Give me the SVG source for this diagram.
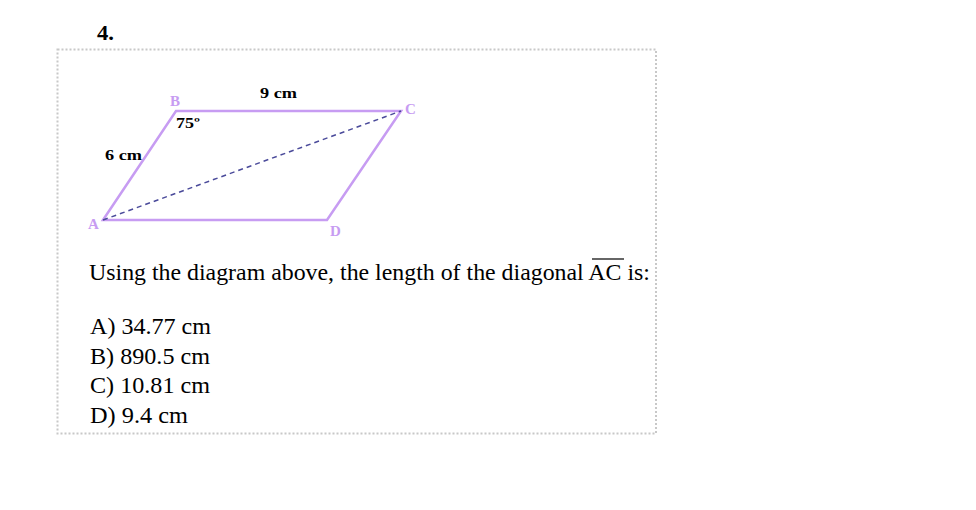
<svg xmlns="http://www.w3.org/2000/svg" width="976" height="510" viewBox="0 0 976 510">
<style>
.lbl{font-family:"Liberation Serif","Times New Roman","DejaVu Serif",serif;font-weight:bold;font-size:15px;fill:#c79cf2}
.dim{font-family:"Liberation Serif","Times New Roman","DejaVu Serif",serif;font-weight:bold;font-size:14px;fill:#000}
.txt{font-family:"Liberation Serif","Times New Roman","DejaVu Serif",serif;font-size:23px;fill:#000}
.side{stroke:#c79cf2;stroke-width:2.5;fill:none}
</style>
<rect width="976" height="510" fill="#fff"/>
<text x="97" y="40" font-family="Liberation Serif, Times New Roman, DejaVu Serif, serif" font-weight="bold" font-size="21" textLength="17" lengthAdjust="spacingAndGlyphs">4.</text>
<rect x="57.5" y="49.5" width="598.5" height="384" fill="none" stroke="#c8c8c8" stroke-width="2" stroke-dasharray="2 2"/>
<g id="parallelogram">
<polygon class="side" points="103,220 176,111 401,111 327,220"/>
</g>
<g id="connectors">
<line x1="103" y1="220" x2="401" y2="111" stroke="#4a4a9a" stroke-width="1.5" stroke-dasharray="5 4"/>
</g>
<g id="labels">
<text class="lbl" x="170" y="106">B</text>
<text class="lbl" x="405" y="114">C</text>
<text class="lbl" x="88" y="229">A</text>
<text class="lbl" x="330" y="236">D</text>
<text class="dim" x="260" y="98" textLength="37" lengthAdjust="spacingAndGlyphs">9 cm</text>
<text class="dim" x="176" y="128" textLength="24" lengthAdjust="spacingAndGlyphs">75º</text>
<text class="dim" x="105" y="160" textLength="37" lengthAdjust="spacingAndGlyphs">6 cm</text>
</g>
<g id="question">
<text class="txt" x="89" y="280" textLength="561" lengthAdjust="spacingAndGlyphs">Using the diagram above, the length of the diagonal AC is:</text>
<line x1="592" y1="259" x2="624" y2="259" stroke="#000" stroke-width="1.2"/>
<text class="txt" x="90" y="334" textLength="121" lengthAdjust="spacingAndGlyphs">A) 34.77 cm</text>
<text class="txt" x="90" y="364" textLength="120" lengthAdjust="spacingAndGlyphs">B) 890.5 cm</text>
<text class="txt" x="90" y="393" textLength="120" lengthAdjust="spacingAndGlyphs">C) 10.81 cm</text>
<text class="txt" x="90" y="423" textLength="98" lengthAdjust="spacingAndGlyphs">D) 9.4 cm</text>
</g>
</svg>
